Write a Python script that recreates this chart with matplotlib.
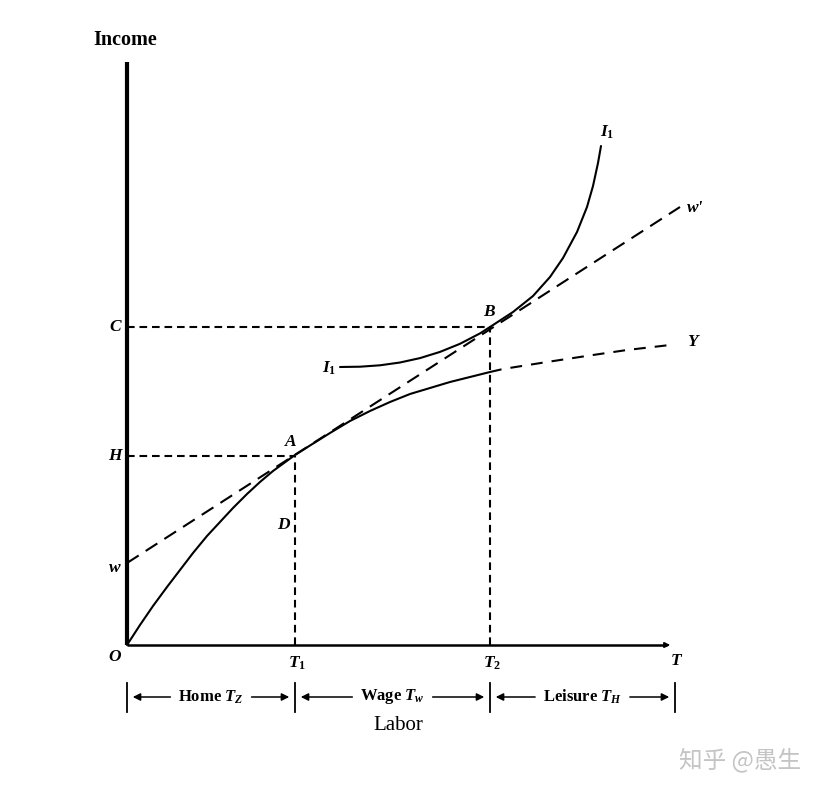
import matplotlib.pyplot as plt

plt.rcParams['lines.scale_dashes'] = False
plt.rcParams['mathtext.fontset'] = 'custom'
plt.rcParams['mathtext.rm'] = 'Liberation Serif:bold'
plt.rcParams['mathtext.it'] = 'Liberation Serif:italic:bold'
plt.rcParams['mathtext.bf'] = 'Liberation Serif:bold'

# ---- data (labor time on x, income on y) ----
# production / income curve O -> A -> T2 (solid)
prod_x = [0.0, 1.3, 2.6, 4.0, 5.3, 6.6, 8.0, 9.3, 10.6, 12.0, 13.3, 14.6, 16.8,
          18.3, 20.3, 22.3, 24.3, 26.3, 28.3, 30.3, 32.3, 34.3, 36.3]
prod_y = [0.0, 2.0, 3.9, 5.8, 7.5, 9.2, 10.9, 12.3, 13.7, 15.1, 16.3, 17.4, 19.0,
          19.95, 21.2, 22.4, 23.4, 24.3, 25.1, 25.7, 26.3, 26.8, 27.3]
# continuation of the curve towards Y (dashed)
prod_ext_x = [36.3, 37.6, 42.0, 46.6, 50.0, 54.3]
prod_ext_y = [27.3, 27.6, 28.3, 29.0, 29.5, 30.0]
# wage line w -> w'
wage_x = [0.0, 55.3]
wage_y = [8.2, 43.8]
# indifference curve I1
indiff_x = [21.3, 23.3, 25.3, 27.3, 29.3, 31.3, 33.3, 35.3, 36.3, 38.6, 40.6, 42.3,
            43.6, 45.0, 46.0, 46.6, 47.1, 47.4]
indiff_y = [27.8, 27.83, 27.97, 28.25, 28.69, 29.31, 30.12, 31.16, 31.8, 33.3, 34.9,
            36.8, 38.7, 41.3, 43.8, 45.9, 48.2, 49.9]

T1, T2, T_axis_end, T_bracket_end = 16.8, 36.3, 54.6, 54.8
H_level, C_level, w_level = 18.9, 31.8, 8.2
y_axis_top = 58.3

segments = [(0.0, T1, 'Home $T_Z$'), (T1, T2, 'Wage $T_w$'), (T2, T_bracket_end, 'Leisure $T_H$')]

serif = 'Liberation Serif'

fig = plt.figure(figsize=(8.26, 7.93), dpi=100)
ax = fig.add_axes([0, 0, 1, 1])
ax.set_xlim(-12.7, 69.9)
ax.set_ylim(-14.8, 64.5)
ax.axis('off')

# axes
ax.plot([0, 0], [0, y_axis_top], color='black', lw=3.0, solid_capstyle='butt')
ax.plot([0, T_axis_end - 0.6], [0, 0], color='black', lw=1.8, solid_capstyle='butt')
ax.annotate('', xy=(T_axis_end, 0), xytext=(T_axis_end - 1.0, 0),
            arrowprops=dict(arrowstyle='-|>', color='black', lw=1.2, mutation_scale=8))

# curves
curve = dict(color='black', lw=1.5, solid_joinstyle='round', solid_capstyle='round')
ax.plot(prod_x, prod_y, **curve)
ax.plot(prod_ext_x, prod_ext_y, color='black', lw=1.5, dashes=(8.5, 6.5))
ax.plot(wage_x, wage_y, color='black', lw=1.5, dashes=(10, 6))
ax.plot(indiff_x, indiff_y, **curve)

# reference dashed lines
ref = dict(color='black', lw=1.5, dashes=(5.5, 3.5))
ax.plot([0, T2], [C_level, C_level], **ref)
ax.plot([0, T1], [H_level, H_level], **ref)
ax.plot([T1, T1], [0, H_level], **ref)
ax.plot([T2, T2], [0, C_level], **ref)

# letter labels
lab = dict(fontfamily=serif, fontweight='bold', fontstyle='italic', fontsize=12.5,
           ha='center', va='center')
ax.text(-1.2, C_level, 'C', **lab)
ax.text(-1.2, H_level, 'H', **lab)
ax.text(-1.2, w_level - 0.5, 'w', **lab)
ax.text(-1.2, -1.2, 'O', **lab)
ax.text(T1 - 0.4, 20.3, 'A', **lab)
ax.text(T2 - 0.1, 33.3, 'B', **lab)
ax.text(T1 - 1.2, 12.0, 'D', **lab)
ax.text(T1 + 0.2, -1.8, '$T_1$', **lab)
ax.text(T2 + 0.2, -1.8, '$T_2$', **lab)
ax.text(T_axis_end + 0.3, -1.6, 'T', **lab)
ax.text(56.5, 30.3, 'Y', **lab)
ax.text(56.8, 43.7, "w'", **lab)
ax.text(20.2, 27.7, '$I_1$', **lab)
ax.text(48.0, 51.3, '$I_1$', **lab)

ax.text(-0.2, 60.5, 'Income', fontfamily=serif, fontweight='bold', fontsize=14.5,
        ha='center', va='center')

# bottom time brackets
row_y = -5.2
for x in [0.0, T1, T2, T_bracket_end]:
    ax.plot([x, x], [-3.8, -6.7], color='black', lw=1.3)

fig.canvas.draw()
renderer = fig.canvas.get_renderer()
inv = ax.transData.inverted()
for x0, x1, label in segments:
    mid = (x0 + x1) / 2
    t = ax.text(mid, row_y, label, fontfamily=serif, fontweight='bold', fontsize=12,
                ha='center', va='center')
    bb = t.get_window_extent(renderer)
    left = inv.transform((bb.x0, bb.y0))[0]
    right = inv.transform((bb.x1, bb.y0))[0]
    arr = dict(arrowstyle='-|>', color='black', lw=1.1, mutation_scale=11)
    ax.annotate('', xy=(x0 + 0.3, row_y), xytext=(left - 0.5, row_y), arrowprops=arr)
    ax.annotate('', xy=(x1 - 0.3, row_y), xytext=(right + 0.5, row_y), arrowprops=arr)

ax.text((0 + T_bracket_end) / 2 - 0.3, -8.0, 'Labor', fontfamily=serif, fontsize=15,
        ha='center', va='center')

# watermark
fig.text(0.896, 0.042, '知乎 @愚生', fontfamily=['Noto Sans CJK SC', 'DejaVu Sans'],
         fontsize=17, color='#c4c4c4', ha='center', va='center')

fig.savefig('out.png', dpi=100)
